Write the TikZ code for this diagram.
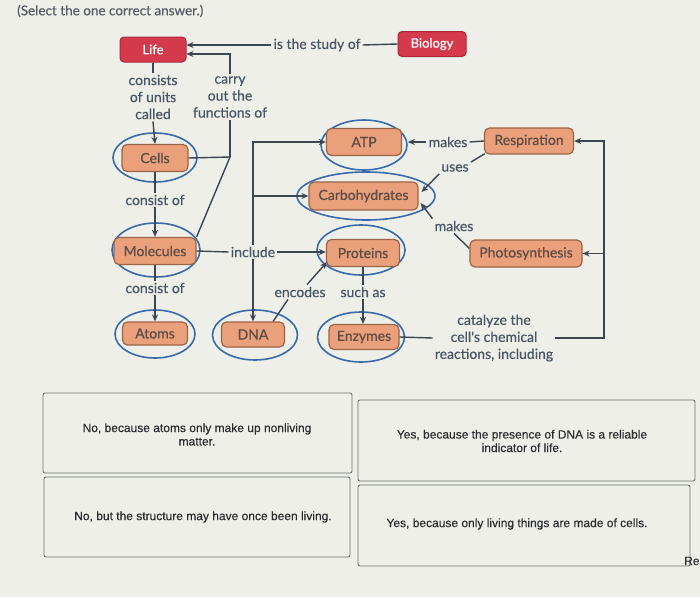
\documentclass[tikz,border=0pt]{standalone}
\usepackage{fontspec}
\setmainfont{Lato}
\newfontfamily\medfont[FakeBold=0.45]{Lato}
\newfontfamily\arialf[FakeBold=0.3]{Liberation Sans}
\usetikzlibrary{shapes.geometric,arrows.meta}
\definecolor{bg}{HTML}{EDEFE8}
\definecolor{redf}{HTML}{D43A4C}
\definecolor{redd}{HTML}{A82A3A}
\definecolor{conf}{HTML}{EBA07C}
\definecolor{cond}{HTML}{9C6446}
\definecolor{ringc}{HTML}{3A6AAA}
\definecolor{lnc}{HTML}{3C4650}
\definecolor{lblc}{HTML}{4A5664}
\definecolor{ctext}{HTML}{5C4C46}
\definecolor{ansb}{HTML}{707272}
\definecolor{anst}{HTML}{2C2C30}
\definecolor{topc}{HTML}{5A5A66}
\tikzset{
 redbox/.style={rounded corners=4pt, fill=redf, draw=redd, line width=1pt, text=white, font=\medfont\fontsize{13}{15}\selectfont, minimum height=25pt, inner sep=0pt},
 concept/.style={rounded corners=5pt, fill=conf, draw=cond, line width=1.2pt, text=ctext, font=\medfont\fontsize{14}{16}\selectfont, minimum height=26pt, inner sep=0pt},
 ringnode/.style={ellipse, draw=ringc, line width=1.6pt, inner sep=0pt},
 lbl/.style={text=lblc, font=\medfont\fontsize{14}{17}\selectfont, align=center, inner sep=2pt},
 conn/.style={draw=lnc, line width=1.4pt},
 arr/.style={conn, -{Stealth[length=7pt,width=6pt]}},
 ansbox/.style={draw=ansb, line width=0.9pt, rounded corners=2pt},
 anstext/.style={text=anst, font=\arialf\fontsize{12}{13.5}\selectfont, align=center, inner sep=0pt},
}
\begin{document}
\begin{tikzpicture}[x=1pt,y=-1pt]
\clip (0,0) rectangle (700,597);
\fill[bg] (0,0) rectangle (700,597);

\node[text=topc, font=\medfont\fontsize{13.5}{16}\selectfont, anchor=west, inner sep=0pt] (sel) at (17,11) {(Select the one correct answer.)};

% rings
\node[ringnode, minimum width=84pt, minimum height=49pt] (CellsE) at (155,157.5) {};
\node[ringnode, minimum width=88pt, minimum height=54pt] (MolE) at (156,250) {};
\node[ringnode, minimum width=80pt, minimum height=48pt] (AtomsE) at (155,334) {};
\node[ringnode, minimum width=86pt, minimum height=50pt] (ATPE) at (364,145) {};
\node[ringnode, minimum width=138pt, minimum height=48pt] (CarbE) at (366,196) {};
\node[ringnode, minimum width=88pt, minimum height=50pt] (ProtE) at (361,250) {};
\node[ringnode, minimum width=85pt, minimum height=50pt] (DNAE) at (255,335) {};
\node[ringnode, minimum width=87pt, minimum height=50pt] (EnzE) at (361,337) {};

% concept boxes
\node[redbox, minimum width=66pt] (Life) at (153,49.5) {Life};
\node[redbox, minimum width=68pt] (Biology) at (432,44) {Biology};
\node[concept, minimum width=66pt, minimum height=27pt] (Cells) at (155,158) {Cells};
\node[concept, minimum width=82pt, minimum height=27pt] (Molecules) at (155,251) {Molecules};
\node[concept, minimum width=65pt, minimum height=23pt] (Atoms) at (155,333.5) {Atoms};
\node[concept, minimum width=75pt, minimum height=27pt] (ATP) at (364,142) {ATP};
\node[concept, minimum width=109pt, minimum height=28pt] (Carbo) at (363.5,196) {Carbohydrates};
\node[concept, minimum width=73pt, minimum height=27pt] (Proteins) at (363,253) {Proteins};
\node[concept, minimum width=63pt, minimum height=25pt] (DNA) at (253,334.5) {DNA};
\node[concept, minimum width=70pt, minimum height=25pt] (Enzymes) at (364,337) {Enzymes};
\node[concept, minimum width=89pt, minimum height=26pt] (Resp) at (529,141) {Respiration};
\node[concept, minimum width=112pt, minimum height=27pt] (Photo) at (526,253.5) {Photosynthesis};

% link labels
\node[lbl] (study) at (317,45) {is the study of};
\node[lbl] (consists) at (153,97) {consists\\of units\\called};
\node[lbl] (carry) at (230,97) {carry\\out the\\functions of};
\node[lbl] (consist1) at (155,200) {consist of};
\node[lbl] (consist2) at (155,288) {consist of};
\node[lbl] (include) at (253,252) {include};
\node[lbl] (encodes) at (300,292) {encodes};
\node[lbl] (suchas) at (363,292) {such as};
\node[lbl] (makes1) at (448,142) {makes};
\node[lbl] (uses) at (455,168) {uses};
\node[lbl] (makes2) at (454,226) {makes};
\node[lbl] (catalyze) at (494,338) {catalyze the\\cell's chemical\\reactions, including};

\coordinate (cj) at (230,157);
\coordinate (vtop) at (253,142);
\coordinate (rtop) at (604,141);

% connectors
\draw[conn] (Biology.west) -- (study.east);
\draw[arr] (study.west) -- (study.west -| Life.east);
\draw[arr] (carry.north) |- ([yshift=-4.5pt]Life.east);
\draw[conn] (Cells.east) -- (cj);
\draw[conn] (Molecules.north east) -- (cj);
\draw[conn] (cj) -- (carry.south);
\draw[conn] (Life.south) -- (consists.north);
\draw[arr] (consists.south) -- (Cells.north);
\draw[conn] (Cells.south) -- (consist1.north);
\draw[arr] (consist1.south) -- (Molecules.north);
\draw[conn] (Molecules.south) -- (consist2.north);
\draw[arr] (consist2.south) -- (Atoms.north);
\draw[conn] (Molecules.east) -- (include.west);
\draw[arr] (include.east) -- (include.east -| Proteins.west);
\draw[arr] (include.north) -- (vtop) -- (ATP.west);
\draw[arr] (include.north |- Carbo.west) -- (Carbo.west);
\draw[arr] (include.south) -- (DNA.north);
\draw[conn] ([xshift=-12pt]DNA.north east) -- ([xshift=-12pt]encodes.south);
\draw[arr] ([xshift=7pt]encodes.north) -- ([xshift=1pt,yshift=5pt]Proteins.south west);
\draw[conn] (Proteins.south) -- (suchas.north);
\draw[arr] (suchas.south) -- (suchas.south |- Enzymes.north);
\draw[conn] (Enzymes.east) -- (catalyze.west);
\draw[arr] (catalyze.east) -| (rtop) -- (Resp.east);
\draw[arr] (rtop |- Photo.east) -- (Photo.east);
\draw[conn] (Resp.west) -- (makes1.east);
\draw[arr] (makes1.west) -- (makes1.west -| ATPE.east);
\draw[conn] ([xshift=1pt,yshift=1pt]Resp.south west) -- (uses.north east);
\draw[arr] (uses.south west) -- ([xshift=3pt,yshift=4pt]Carbo.east);
\draw[conn] ([yshift=5pt]Photo.west) -- (makes2.south);
\draw[arr] (makes2.north west) -- ([xshift=2pt,yshift=-7pt]Carbo.east);

% answer boxes
\draw[ansbox] (43,393) rectangle (352,473);
\draw[ansbox] (358,400) rectangle (695,481);
\draw[ansbox] (44,477) rectangle (350,557);
\draw[ansbox] (358,485) rectangle (690,566);
\node[anstext] (a1) at (197,434.5) {No, because atoms only make up nonliving\\matter.};
\node[anstext] (a2) at (522,441) {Yes, because the presence of DNA is a reliable\\indicator of life.};
\node[anstext] (a3) at (203,517) {No, but the structure may have once been living.};
\node[anstext] (a4) at (517,524) {Yes, because only living things are made of cells.};
\node[text=anst, font=\arialf\fontsize{12}{14}\selectfont, anchor=west, inner sep=0pt] (re) at (684,561) {Re};
\end{tikzpicture}
\end{document}
